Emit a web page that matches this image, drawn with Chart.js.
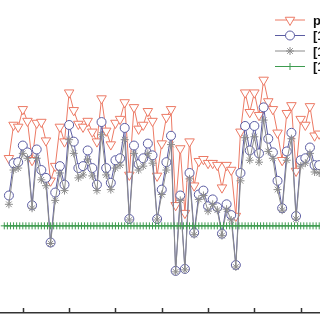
<!DOCTYPE html>
<html>
<head>
<meta charset="utf-8">
<script src="https://cdn.jsdelivr.net/npm/chart.js@4/dist/chart.umd.min.js"></script>
<style>
  html, body { margin: 0; padding: 0; background: #fff; overflow: hidden; width: 320px; height: 320px; }
  #wrap { position: absolute; left: -30px; top: 0; width: 420px; height: 340px; }
</style>
</head>
<body>
<div id="wrap"><canvas id="chart"></canvas></div>
<script>
// ------------------ Data --------------------

var sampleIndex = [7, 8, 9, 10, 11, 12, 13, 14, 15, 16, 17, 18, 19, 20, 21, 22, 23, 24, 25, 26,
  27, 28, 29, 30, 31, 32, 33, 34, 35, 36, 37, 38, 39, 40, 41, 42, 43, 44, 45, 46,
  47, 48, 49, 50, 51, 52, 53, 54, 55, 56, 57, 58, 59, 60, 61, 62, 63, 64, 65, 66,
  67, 68, 69, 70, 71, 72, 73, 74];

var proposed = [158, 192, 190, 208, 196, 156, 194, 195, 176, 135, 150, 190, 175, 225, 207, 193, 190, 196, 185, 175,
  219, 186, 172, 194, 198, 215, 141, 210, 188, 192, 206, 196, 140, 173, 200, 208, 110, 168, 102, 175,
  130, 155, 157, 153, 153, 151, 128, 151, 146, 99, 185, 225, 205, 225, 202, 238, 216, 208, 184, 156,
  204, 212, 145, 198, 192, 211, 181, 183];

var ref1 = [120, 153, 154, 171, 164, 110, 167, 146, 138, 72, 123, 150, 131, 192, 175, 148, 150, 166, 148, 131,
  195, 148, 133, 156, 158, 189, 96, 171, 152, 158, 173, 161, 96, 126, 154, 181, 43, 120, 45, 143,
  82, 121, 125, 109, 116, 108, 81, 111, 100, 49, 143, 191, 166, 191, 163, 210, 178, 164, 135, 107,
  165, 184, 99, 156, 158, 169, 151, 151];

var ref2 = [111, 146, 148, 163, 158, 107, 158, 136, 130, 71, 115, 143, 125, 177, 163, 138, 141, 157, 140, 125,
  182, 141, 126, 148, 151, 177, 95, 163, 146, 150, 163, 153, 95, 121, 146, 172, 42, 115, 44, 137,
  80, 116, 120, 104, 111, 105, 79, 106, 95, 47, 135, 179, 156, 180, 154, 197, 165, 158, 126, 105,
  156, 178, 96, 150, 153, 163, 144, 143];

// constant reference level, sampled more densely than the others
var ref3Level = 89;
var ref3Step = 2 / 3;

var labels = ['proposed', '[17]', '[18]', '[19]'];
var xTicks = [10, 20, 30, 40, 50, 60, 70];

// ----- INIT ------

function pairs(values) {
  return sampleIndex.map(function (x, i) { return { x: x, y: values[i] }; });
}

var ref3Points = [];
for (var x = 6; x <= 76; x += ref3Step) ref3Points.push({ x: x, y: ref3Level });

var styles = [
  { color: '#ec7a65', pointStyle: 'triangle', rotation: 180, radius: 5.5 },
  { color: '#5b5ca2', pointStyle: 'circle', rotation: 0, radius: 4.5 },
  { color: '#8c8c8c', pointStyle: 'star', rotation: 0, radius: 4 },
  { color: '#3d9b4f', pointStyle: 'cross', rotation: 0, radius: 3.5 }
];

function dataset(i, data) {
  var s = styles[i];
  return {
    label: labels[i],
    data: data,
    order: 4 - i,
    borderColor: s.color,
    borderWidth: 1,
    pointStyle: s.pointStyle,
    pointRotation: s.rotation,
    pointRadius: s.radius,
    pointBorderColor: s.color,
    pointBorderWidth: 1,
    pointBackgroundColor: '#fff',
    tension: 0
  };
}

// inward x ticks and the in-plot legend
var extras = {
  id: 'extras',
  afterDraw: function (chart) {
    var ctx = chart.ctx;
    var xs = chart.scales.x;
    var bottom = chart.chartArea.bottom;
    ctx.save();
    ctx.strokeStyle = '#333';
    ctx.lineWidth = 1.5;
    xTicks.forEach(function (v) {
      var px = Math.round(xs.getPixelForValue(v)) + 0.5;
      ctx.beginPath();
      ctx.moveTo(px, bottom);
      ctx.lineTo(px, bottom - 5);
      ctx.stroke();
    });

    var rowY = [20, 35.5, 51, 66.5];
    for (var i = 0; i < styles.length; i++) {
      var s = styles[i];
      var y = rowY[i];
      ctx.strokeStyle = s.color;
      ctx.fillStyle = '#fff';
      ctx.lineWidth = 1;
      ctx.beginPath();
      ctx.moveTo(305, y);
      ctx.lineTo(335, y);
      ctx.stroke();
      Chart.helpers.drawPoint(ctx, { pointStyle: s.pointStyle, radius: s.radius, rotation: s.rotation, borderWidth: 1 }, 320, y);
      ctx.fillStyle = '#111';
      ctx.font = 'bold 13px "Liberation Sans", Arial, sans-serif';
      ctx.textBaseline = 'middle';
      ctx.fillText(labels[i], 343, y + 1);
    }
    ctx.restore();
  }
};

var ctx = document.getElementById('chart').getContext('2d');
var chart = new Chart(ctx, {
  type: 'line',
  data: {
    datasets: [
      dataset(0, pairs(proposed)),
      dataset(1, pairs(ref1)),
      dataset(2, pairs(ref2)),
      dataset(3, ref3Points)
    ]
  },
  options: {
    responsive: true,
    maintainAspectRatio: false,
    animation: false,
    devicePixelRatio: 1,
    layout: { padding: { left: 0, right: 43, top: 0, bottom: 27 } },
    plugins: { legend: { display: false }, tooltip: { enabled: false } },
    scales: {
      x: {
        type: 'linear',
        min: 0,
        max: 80,
        ticks: { display: false, stepSize: 10 },
        grid: { drawOnChartArea: false, drawTicks: false },
        border: { display: true, color: '#333', width: 1.5 }
      },
      y: {
        display: false,
        min: 0,
        max: 313
      }
    }
  },
  plugins: [extras]
});
</script>
</body>
</html>
